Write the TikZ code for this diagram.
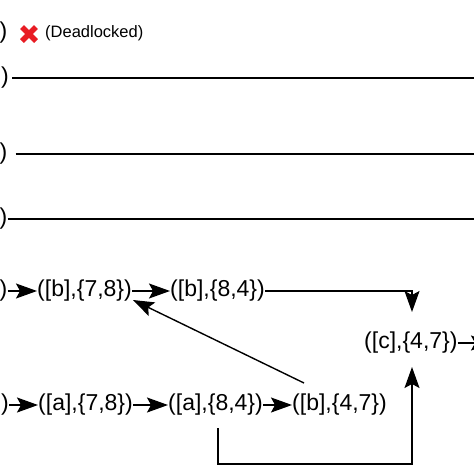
\documentclass[tikz,border=0pt]{standalone}
\usepackage{fontspec}
\setmainfont{Liberation Sans}
\usetikzlibrary{arrows.meta}
\definecolor{xred}{RGB}{232,28,36}
\begin{document}
\begin{tikzpicture}[x=1pt,y=-1pt,
  st/.style={font=\fontsize{23}{26}\selectfont, inner sep=0pt, anchor=west},
  lb/.style={font=\fontsize{16.5}{18}\selectfont, inner sep=0pt, anchor=west},
  ar/.style={-{Stealth[length=21pt,width=15pt,inset=4pt]}, line width=1.4pt},
  hl/.style={line width=1.9pt},
  cross/.style={line width=5.5pt, draw=xred}]
\useasboundingbox (0,0) rectangle (474,474);
\clip (0,0) rectangle (474,474);
% left fragments
\node[st,anchor=east] (l1) at (7.5,33) {)};
\node[st,anchor=east] (l2) at (9,78) {)};
\node[st,anchor=east] (l3) at (7.5,154) {)};
\node[st,anchor=east] (l4) at (7.5,219) {)};
\node[st,anchor=east] (l5) at (7.5,291) {)};
\node[st,anchor=east] (l6) at (9,405) {)};
% deadlocked mark
\draw[cross] (22,27) -- (36,41) (22,41) -- (36,27);
\node[lb] (dl) at (45,33) {(Deadlocked)};
% horizontal lines
\coordinate (e2) at (480,78);
\coordinate (e3) at (480,154);
\coordinate (e4) at (480,219);
\draw[hl] ([xshift=3pt]l2.east) -- (e2);
\draw[hl] ([xshift=8pt]l3.east) -- (e3);
\draw[hl] (l4.east) -- (e4);
% upper chain
\node[st] (b78) at (37,291) {([b],\{7,8\})};
\node[st] (b84) at (170,291) {([b],\{8,4\})};
\node[st] (c47) at (364,343) {([c],\{4,7\})};
% lower chain
\node[st] (a78) at (38,405) {([a],\{7,8\})};
\node[st] (a84) at (168,405) {([a],\{8,4\})};
\node[st] (b47) at (292,405) {([b],\{4,7\})};
% coordinates
\coordinate (ctop) at (412,312);
\coordinate (cbot) at (412,367);
\coordinate (cout) at (492,343);
\coordinate (dstart) at (304,383);
\coordinate (dend) at (133,300);
\coordinate (astart) at (218,428);
\coordinate (acorner) at (218,464);
% connectors
\draw[ar] (l5.east) -- (b78.west);
\draw[ar] (b78.east) -- (b84.west);
\draw[ar] (b84.east) -| (ctop);
\draw[ar] (l6.east) -- (a78.west);
\draw[ar] (a78.east) -- (a84.west);
\draw[ar] (a84.east) -- (b47.west);
\draw[ar] (dstart) -- (dend);
\draw[ar] (astart) -- (acorner) -| (cbot);
\draw[ar] (c47.east) -- (cout);
\end{tikzpicture}
\end{document}
